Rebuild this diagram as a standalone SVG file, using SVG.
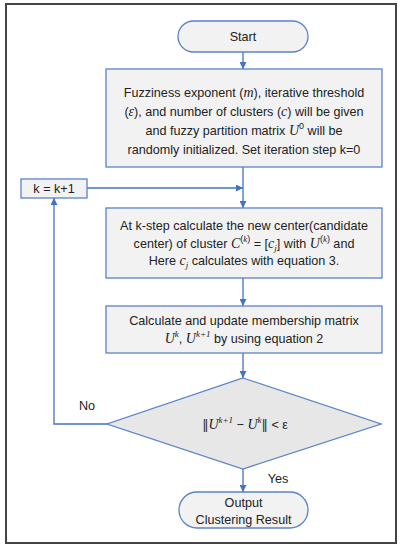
<svg xmlns="http://www.w3.org/2000/svg" width="402" height="550" viewBox="0 0 402 550">
<defs>
<marker id="ah" viewBox="0 0 10 10" refX="10" refY="5" markerWidth="7" markerHeight="7" markerUnits="userSpaceOnUse" orient="auto">
<path d="M0,0 L10,5 L0,10 z" fill="#4472c4"/>
</marker>
<style>
.node{fill:#f2f2f2;stroke:#5b82c8;stroke-width:1.3}
.dia{fill:#e7e7e7;stroke:#5b82c8;stroke-width:1.3}
.t{font-family:"Liberation Sans",Arial,sans-serif;font-size:12.6px;fill:#222;text-anchor:middle}
.m{font-family:"Liberation Serif","DejaVu Serif",serif;font-style:italic;font-size:14px}
.s{font-size:9px}
.c{fill:none;stroke:#4472c4;stroke-width:1.3}
</style>
</defs>
<rect x="0" y="0" width="402" height="550" fill="#ffffff"/>
<rect x="6" y="4" width="390" height="539" fill="none" stroke="#444" stroke-width="2"/>

<g id="connectors">
<line class="c" x1="243" y1="52" x2="243" y2="69" marker-end="url(#ah)"/>
<line class="c" x1="243" y1="167" x2="243" y2="208" marker-end="url(#ah)"/>
<line class="c" x1="87" y1="188" x2="243" y2="188" marker-end="url(#ah)"/>
<line class="c" x1="243" y1="278" x2="243" y2="306" marker-end="url(#ah)"/>
<line class="c" x1="243" y1="353" x2="243" y2="378" marker-end="url(#ah)"/>
<polyline class="c" points="107,424 54,424 54,198" marker-end="url(#ah)"/>
<line class="c" x1="243" y1="469" x2="243" y2="492" marker-end="url(#ah)"/>
<text class="t" x="87" y="410">No</text>
<text class="t" x="278" y="483">Yes</text>
</g>

<g id="start">
<rect class="node" x="178" y="21" width="130" height="31" rx="15.5"/>
<text class="t" x="243" y="41">Start</text>
</g>

<g id="init">
<rect class="node" x="106" y="69" width="276" height="98"/>
<text class="t" x="244" y="97">Fuzziness exponent (<tspan class="m">m</tspan>), iterative threshold</text>
<text class="t" x="244" y="116">(<tspan class="m">ε</tspan>), and number of clusters (<tspan class="m">c</tspan>) will be given</text>
<text class="t" x="244" y="135">and fuzzy partition matrix <tspan class="m">U</tspan><tspan class="s" dy="-6">0</tspan><tspan dy="6"> will be</tspan></text>
<text class="t" x="244" y="154">randomly initialized. Set iteration step k=0</text>
</g>

<g id="kinc">
<rect class="node" x="21" y="179" width="66" height="19"/>
<text class="t" x="54" y="193">k = k+1</text>
</g>

<g id="center">
<rect class="node" x="106" y="208" width="276" height="70"/>
<text class="t" x="244" y="230">At k-step calculate the new center(candidate</text>
<text class="t" x="244" y="248">center) of cluster <tspan class="m">C</tspan><tspan class="s" dy="-6">(<tspan class="m s">k</tspan>)</tspan><tspan dy="6"> = [</tspan><tspan class="m">c</tspan><tspan class="m s" dy="3">j</tspan><tspan dy="-3">] with </tspan><tspan class="m">U</tspan><tspan class="s" dy="-6">(<tspan class="m s">k</tspan>)</tspan><tspan dy="6"> and</tspan></text>
<text class="t" x="244" y="265">Here <tspan class="m">c</tspan><tspan class="m s" dy="3">j</tspan><tspan dy="-3"> calculates with equation 3.</tspan></text>
</g>

<g id="update">
<rect class="node" x="106" y="306" width="276" height="47"/>
<text class="t" x="244" y="325">Calculate and update membership matrix</text>
<text class="t" x="244" y="343"><tspan class="m">U</tspan><tspan class="m s" dy="-6">k</tspan><tspan dy="6">, </tspan><tspan class="m">U</tspan><tspan class="m s" dy="-6">k+1</tspan><tspan dy="6"> by using equation 2</tspan></text>
</g>

<g id="decision">
<polygon class="dia" points="243,378 381,424 243,469 107,424"/>
<text class="t" x="245" y="429" font-size="14"><tspan font-family="DejaVu Serif,serif">‖</tspan><tspan class="m" font-size="15">U</tspan><tspan class="m s" font-size="10" dy="-6">k+1</tspan><tspan dy="6"> − </tspan><tspan class="m" font-size="15">U</tspan><tspan class="m s" font-size="10" dy="-6">k</tspan><tspan dy="6" font-family="DejaVu Serif,serif">‖</tspan><tspan> &lt; ε</tspan></text>
</g>

<g id="output">
<rect class="node" x="179" y="492" width="129" height="36" rx="18"/>
<text class="t" x="243.5" y="507">Output</text>
<text class="t" x="243.5" y="523.5">Clustering Result</text>
</g>
</svg>
